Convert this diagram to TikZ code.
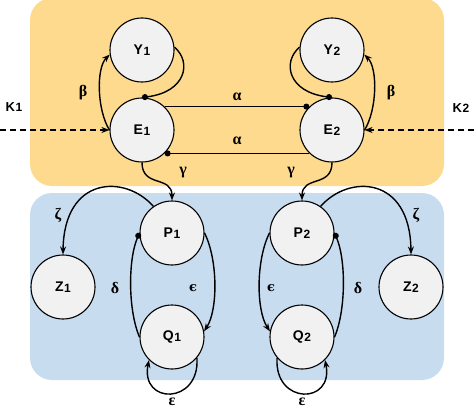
\documentclass[tikz,border=0pt]{standalone}
\usepackage{fontspec}
\setmainfont{Liberation Sans}
\newfontfamily\gkfont{Liberation Serif}
\newfontfamily\gkalt{DejaVu Serif}
\usetikzlibrary{arrows.meta}
\definecolor{ybox}{RGB}{253,218,142}
\definecolor{bbox}{RGB}{200,220,240}
\definecolor{nfill}{RGB}{241,241,241}
\newcommand{\nlab}[2]{#1\kern0.5pt\raisebox{-0.8pt}{\fontsize{12}{12}\selectfont #2}}
\tikzset{
  state/.style={circle,draw=black,line width=1.1pt,fill=nfill,minimum size=64pt,inner sep=0pt,font=\bfseries\fontsize{14}{14}\selectfont},
  conn/.style={line width=1.4pt,draw=black},
  arr/.style={conn,-{Stealth[length=8pt,width=6pt]}},
  dotend/.style={conn,-{Circle[length=6pt]}},
  glabel/.style={font=\gkfont\bfseries\fontsize{16}{16}\selectfont,inner sep=1pt},
  galt/.style={font=\gkalt\bfseries\fontsize{13}{13}\selectfont,inner sep=1pt},
  klabel/.style={font=\bfseries\fontsize{13}{13}\selectfont,inner sep=1pt},
  region/.style={rounded corners=22pt,draw=none}
}
\begin{document}
\begin{tikzpicture}[x=1pt,y=1pt]
\useasboundingbox (0,0) rectangle (474,-412);
\fill[ybox,region] (30,2) rectangle (444,-186);
\fill[bbox,region] (30,-193) rectangle (444,-380);

\node[state] (Y1) at (142,-50) {\nlab{Y}{1}};
\node[state] (E1) at (142,-130) {\nlab{E}{1}};
\node[state] (Y2) at (332,-50) {\nlab{Y}{2}};
\node[state] (E2) at (332,-130) {\nlab{E}{2}};
\node[state] (P1) at (172,-233) {\nlab{P}{1}};
\node[state] (Q1) at (172,-337) {\nlab{Q}{1}};
\node[state] (Z1) at (63,-287) {\nlab{Z}{1}};
\node[state] (P2) at (302,-233) {\nlab{P}{2}};
\node[state] (Q2) at (302,-337) {\nlab{Q}{2}};
\node[state] (Z2) at (411,-287) {\nlab{Z}{2}};

\coordinate (k1s) at (0,-130);
\coordinate (k2s) at (474,-130);
\draw[arr,dash pattern=on 6pt off 4pt] (k1s) -- (E1.west);
\draw[arr,dash pattern=on 6pt off 4pt] (k2s) -- (E2.east);
\node[klabel] (K1) at (14,-107) {\nlab{K}{1}};
\node[klabel] (K2) at (461,-108) {\nlab{K}{2}};

% beta
\draw[arr] (E1.west) .. controls (97,-110) and (96,-68) .. (Y1.188);
\draw[arr] (E2.east) .. controls (377,-110) and (378,-68) .. (Y2.-8);
\node[glabel] at (83,-93) {β};
\node[glabel] at (391,-93) {β};

% Y -> E inhibition
\draw[dotend] (Y1.5) .. controls (192,-62) and (186,-92) .. (E1.north);
\draw[dotend] (Y2.175) .. controls (282,-62) and (288,-92) .. (E2.north);

% alpha
\draw[dotend] (E1.46) -- (E2.134);
\draw[dotend] (E2.-134) -- (E1.-46);
\node[glabel] at (237,-97) {α};
\node[glabel] at (237,-141) {α};

% gamma
\draw[arr] (E1.south) .. controls (142,-188) and (172,-175) .. (P1.north);
\draw[arr] (E2.south) .. controls (332,-188) and (302,-175) .. (P2.north);
\node[glabel] at (183,-173) {γ};
\node[glabel] at (291,-173) {γ};

% zeta
\draw[arr] (P1.125) .. controls (125,-174) and (64,-176) .. (Z1.north);
\draw[arr] (P2.55) .. controls (349,-174) and (410,-176) .. (Z2.north);
\node[glabel] at (58,-215) {ζ};
\node[glabel] at (416,-215) {ζ};

% delta
\draw[dotend] (Q1.west) .. controls (128,-310) and (128,-260) .. (P1.west);
\draw[dotend] (Q2.east) .. controls (346,-310) and (346,-260) .. (P2.east);
\node[glabel] at (115,-288) {δ};
\node[glabel] at (358,-288) {δ};

% epsilon
\draw[arr] (P1.east) .. controls (218,-260) and (218,-310) .. (Q1.10);
\draw[arr] (P2.west) .. controls (256,-260) and (256,-310) .. (Q2.170);
\node[galt] at (193,-288) {ϵ};
\node[galt] at (271,-288) {ϵ};

% varepsilon loops
\draw[arr] (Q1.-40) .. controls (200,-405) and (140,-405) .. (Q1.-135);
\draw[arr] (Q2.-140) .. controls (274,-405) and (334,-405) .. (Q2.-45);
\node[glabel] at (172,-402) {ε};
\node[glabel] at (302,-402) {ε};
\end{tikzpicture}
\end{document}
